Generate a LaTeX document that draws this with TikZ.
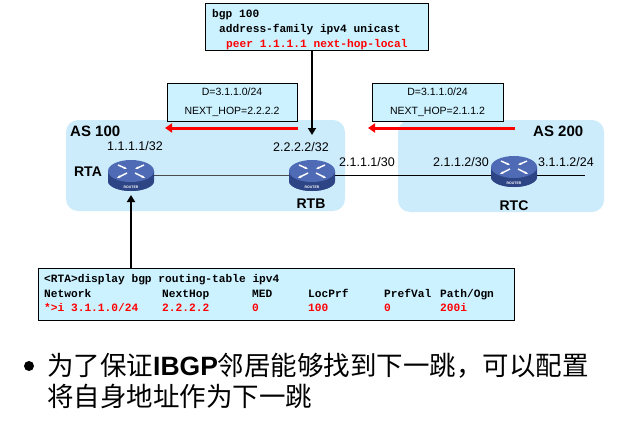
\documentclass[tikz,border=0pt]{standalone}
\usepackage{fontspec}
\setmainfont{Liberation Sans}
\setmonofont{Liberation Mono}
\newfontfamily\cjk{Noto Sans CJK SC}
\usetikzlibrary{arrows.meta,calc}
\definecolor{asfill}{HTML}{CCECFB}
\definecolor{boxfill}{HTML}{CCF2FF}
\definecolor{rblue}{HTML}{4F6BB5}
\definecolor{rdark}{HTML}{2E4585}
\tikzset{
 x=1pt,y=-1pt,
 code/.style={draw=black,fill=boxfill,line width=0.8pt},
 asreg/.style={fill=asfill,rounded corners=12pt},
 lbl/.style={font=\fontsize{12.5}{13}\selectfont,inner sep=0pt},
 rname/.style={font=\bfseries\fontsize{14}{15}\selectfont,inner sep=0pt},
 tt/.style={font=\ttfamily\bfseries\fontsize{11.2}{12}\selectfont,inner sep=0pt,anchor=base west},
 redarr/.style={red,line width=3pt,-{Triangle[length=7pt,width=9pt]}},
 blkarr/.style={black,line width=2.5pt,-{Triangle[length=7pt,width=8pt]}},
}
\newcommand{\myrouter}[2]{%
 \fill[rdark] (#1)++(-23,0) -- ++(0,10) arc[start angle=180,end angle=360,x radius=23,y radius=-10] -- ++(0,-10) -- cycle;
 \fill[rdark] (#1)++(0,10) ellipse[x radius=23,y radius=10];
 \fill[rblue] (#1) ellipse[x radius=23,y radius=11];
 \draw[white,line width=1.4pt,-{Stealth[length=3.5pt]}] (#1)++(-13,-6) -- ++(9,4);
 \draw[white,line width=1.4pt,-{Stealth[length=3.5pt]}] (#1)++(13,-6) -- ++(-9,4);
 \draw[white,line width=1.4pt,-{Stealth[length=3.5pt]}] (#1)++(-4,2) -- ++(-10,5);
 \draw[white,line width=1.4pt,-{Stealth[length=3.5pt]}] (#1)++(4,2) -- ++(10,5);
 \node[white,font=\bfseries\fontsize{3.5}{4}\selectfont,inner sep=0pt] at ($(#1)+(0,16)$) {ROUTER};
 \coordinate (#2) at (#1);}
\begin{document}
\begin{tikzpicture}
\useasboundingbox[fill=white] (0,0) rectangle (638,431);
\fill[asreg] (66,120) rectangle (345,211);
\fill[asreg] (398,120) rectangle (604,212);
\node[rname,font=\bfseries\fontsize{15}{16}\selectfont,anchor=west] (as1) at (70,131) {AS 100};
\node[rname,font=\bfseries\fontsize{15}{16}\selectfont,anchor=west] (as2) at (533,131) {AS 200};
% links
\coordinate (ra) at (131,171);
\coordinate (rb) at (312,171);
\coordinate (rc) at (514,167);
\coordinate (rend) at (585,175);
\draw[black!70,line width=0.6pt] (131,175) -- (312,175);
\draw[black,line width=0.6pt] (312,175) -- (rend);
\myrouter{ra}{RTA}
\myrouter{rb}{RTB}
\myrouter{rc}{RTC}
\node[lbl] (l1) at (135,146) {1.1.1.1/32};
\node[rname] (nA) at (88,172) {RTA};
\node[lbl] (l2) at (301,147) {2.2.2.2/32};
\node[lbl] (l3) at (367,162) {2.1.1.1/30};
\node[rname] (nB) at (311,204) {RTB};
\node[lbl] (l4) at (461,162) {2.1.1.2/30};
\node[lbl] (l5) at (566,162) {3.1.1.2/24};
\node[rname] (nC) at (514,206) {RTC};
% top box
\node[code,minimum width=223pt,minimum height=47pt] (top) at (316.5,26.5) {};
\node[tt] at (212,17) {bgp 100};
\node[tt] at (219,32) {address-family ipv4 unicast};
\node[tt,red] at (226,47) {peer 1.1.1.1 next-hop-local};
\draw[blkarr] (312,50) -- (312,135);
% D boxes
\node[code,line width=0.6pt,minimum width=130pt,minimum height=38pt,align=center,font=\fontsize{10.5}{19}\selectfont] (d1) at (232,102) {D=3.1.1.0/24\\NEXT\_HOP=2.2.2.2};
\node[code,line width=0.6pt,minimum width=131pt,minimum height=38pt,align=center,font=\fontsize{10.5}{19}\selectfont] (d2) at (437.5,102) {D=3.1.1.0/24\\NEXT\_HOP=2.1.1.2};
\coordinate (a1s) at (298,128); \coordinate (a1e) at (165,128);
\coordinate (a2s) at (515,128); \coordinate (a2e) at (368,128);
\draw[redarr] (a1s) -- (a1e);
\draw[redarr] (a2s) -- (a2e);
% bottom box
\node[code,minimum width=476pt,minimum height=52pt] (bot) at (276,294) {};
\draw[blkarr] (bot.north -| 131,0) -- (131,195);
\node[tt] at (44,282) {<RTA>display bgp routing-table ipv4};
\node[tt] at (44,297) {Network};
\node[tt] at (162,297) {NextHop};
\node[tt] at (252,297) {MED};
\node[tt] at (308,297) {LocPrf};
\node[tt] at (384,297) {PrefVal};
\node[tt] at (440,297) {Path/Ogn};
\node[tt,red] at (44,311) {*>i 3.1.1.0/24};
\node[tt,red] at (162,311) {2.2.2.2};
\node[tt,red] at (252,311) {0};
\node[tt,red] at (308,311) {100};
\node[tt,red] at (384,311) {0};
\node[tt,red] at (440,311) {200i};
% bullet text
\fill (29,366) circle (5);
\node[anchor=west,inner sep=0pt,font=\cjk\fontsize{26.5}{31}\selectfont,align=left] (txt) at (47,381) {为了保证{\normalfont\bfseries IBGP}邻居能够找到下一跳，可以配置\\将自身地址作为下一跳};
\end{tikzpicture}
\end{document}
